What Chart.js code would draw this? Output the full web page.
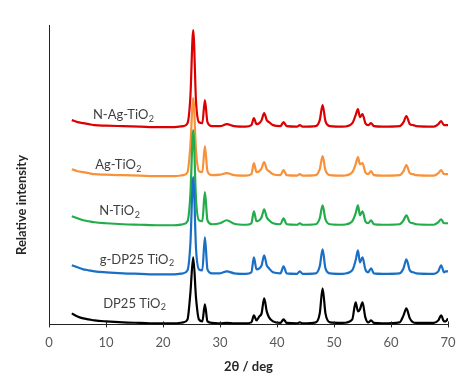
<!DOCTYPE html>
<html>
<head>
<meta charset="utf-8">
<script src="https://cdn.jsdelivr.net/npm/chart.js@4/dist/chart.umd.min.js"></script>
<style>
  html, body { margin: 0; padding: 0; background: #fff; }
  canvas { display: block; }
</style>
</head>
<body>
<canvas id="xrd" width="474" height="389"></canvas>
<script>
// 2theta positions (deg) shared by all patterns
const twoTheta = [
  4, 5, 6, 7, 8, 10, 13, 16, 19, 22,
  23.5, 24.3, 24.8, 25.3, 25.8, 26.3, 26.9, 27.35, 27.8, 28.6,
  30, 31.2, 32.5, 34.5, 35.5, 35.95, 36.4, 36.9, 37.3, 37.75,
  38.2, 38.6, 39.3, 40.6, 41.15, 41.7, 43.5, 44, 44.5, 46.8,
  47.5, 48.0, 48.5, 49.3, 51.5, 53.2, 53.8, 54.2, 54.55, 55.0,
  55.5, 56.0, 56.5, 57.0, 58.5, 61.5, 62.2, 62.7, 63.3, 63.9,
  64.4, 67.5, 68.3, 68.8, 69.3, 69.6, 70
];

// intensities, relative to each pattern's own baseline
const dp25 = [
  10, 7, 5, 4, 3, 2, 1, 0.5, 0, 0,
  1, 4, 30, 66, 25, 4, 2, 19, 2, 0.5,
  0, 0.5, 0, 0, 1, 8, 3, 7, 10, 25,
  12, 6, 2, 0.5, 4, 0.5, 0, 1, 0, 1,
  10, 35, 10, 1, 0.5, 4, 21, 12, 14, 21,
  6, 1, 3, 0.5, 0, 1, 8, 15, 5, 1,
  0.5, 0.5, 3, 8, 2, 2, 5
];
const gDp25 = [
  9, 7, 5, 4, 3, 2, 1, 0.5, 0, 0,
  1, 4, 30, 97, 25, 5, 4, 37, 5, 1,
  1, 3, 1, 0.5, 2, 17, 5, 6, 9, 19,
  9, 6, 2, 1, 8, 1, 0.5, 3, 0.5, 1,
  8, 25, 6, 1, 0.5, 4, 14, 24, 12, 17,
  5, 2, 6, 1, 0.5, 1, 6, 15, 4, 2,
  1, 0.5, 3, 9, 2, 3, 3
];
const nTiO2 = [
  9, 7, 5, 4, 3, 2, 1, 0.5, 0, 0,
  1, 4, 30, 95, 25, 5, 4, 33, 5, 1,
  2, 5, 1.5, 0.5, 2, 14, 4, 5, 8, 16,
  8, 5, 2, 1, 7, 1, 0.5, 2, 0.5, 1,
  7, 20, 6, 1, 0.5, 4, 12, 20, 10, 14,
  4, 2, 5, 1, 0.5, 1, 5, 10, 3, 2,
  1, 0.5, 3, 6, 2, 2, 2
];
const agTiO2 = [
  7, 5, 4, 3, 2, 1.5, 1, 0.5, 0, 0,
  1, 4, 30, 78, 25, 5, 4, 30, 5, 1,
  1.5, 3, 1, 0.5, 2, 13, 4, 5, 8, 14,
  7, 5, 2, 1, 6, 1, 0.5, 2, 0.5, 1,
  7, 20, 6, 1, 0.5, 4, 12, 19, 12, 13,
  4, 2, 5, 1, 0.5, 1, 5, 11, 3, 2,
  1, 0.5, 3, 6, 2, 2, 2
];
const nAgTiO2 = [
  7, 5, 4, 3, 2, 1.5, 1, 0.5, 0, 0,
  1, 4, 30, 97, 25, 5, 4, 27, 5, 1,
  1, 3, 1, 0.5, 2, 9, 3, 4, 7, 14,
  7, 5, 2, 1, 5, 1, 0.5, 2, 0.5, 1,
  7, 22, 6, 1, 0.5, 4, 12, 18, 10, 13,
  4, 2, 4, 1, 0.5, 1, 5, 11, 3, 2,
  1, 0.5, 3, 6, 2, 2, 2
];

const seriesNames = ['DP25 TiO2', 'g-DP25 TiO2', 'N-TiO2', 'Ag-TiO2', 'N-Ag-TiO2'];
const seriesValues = [dp25, gDp25, nTiO2, agTiO2, nAgTiO2];
const baselineOffsets = [1, 50, 99, 148, 197];
const xTicks = [0, 10, 20, 30, 40, 50, 60, 70];

// where each name sits (data units: left edge x, middle y)
const labelX = [9.5, 8.9, 8.8, 8.1, 7.7];
const labelY = [21, 65, 113, 159, 209];

const colors = ['#000000', '#1a6fc4', '#22ac4a', '#f7913a', '#dc0000'];
const FONT = 'Lato, "Open Sans", sans-serif';

const datasets = seriesNames.map((name, s) => ({
  label: name,
  data: twoTheta.map((x, i) => ({ x: x, y: seriesValues[s][i] + baselineOffsets[s] })),
  borderColor: colors[s],
  borderWidth: 2.2,
  pointRadius: 0,
  cubicInterpolationMode: 'monotone',
  fill: false
}));

// text like "TiO2" with the trailing 2 as a subscript
function drawFormula(ctx, text, x, y, size) {
  const main = text.slice(0, -1);
  ctx.font = size + 'px ' + FONT;
  ctx.textBaseline = 'middle';
  ctx.textAlign = 'left';
  ctx.fillText(main, x, y);
  const w = ctx.measureText(main).width;
  ctx.font = Math.round(size * 0.7) + 'px ' + FONT;
  ctx.fillText(text.slice(-1), x + w + 0.5, y + size * 0.3);
}

const decorations = {
  id: 'decorations',
  afterDraw(chart) {
    const ctx = chart.ctx;
    const xs = chart.scales.x;
    const ys = chart.scales.y;
    const area = chart.chartArea;
    ctx.save();

    // cross ticks on the x axis
    ctx.strokeStyle = '#222';
    ctx.lineWidth = 1;
    xTicks.forEach(v => {
      const px = Math.round(xs.getPixelForValue(v)) + 0.5;
      ctx.beginPath();
      ctx.moveTo(px, area.bottom - 3);
      ctx.lineTo(px, area.bottom + 3);
      ctx.stroke();
    });

    // series names
    ctx.fillStyle = '#404040';
    seriesNames.forEach((name, s) => {
      drawFormula(ctx, name, xs.getPixelForValue(labelX[s]), ys.getPixelForValue(labelY[s]), 13);
    });

    // axis titles
    ctx.font = 'bold 13px ' + FONT;
    ctx.fillStyle = '#262626';
    ctx.textAlign = 'center';
    ctx.textBaseline = 'middle';
    ctx.fillText('2θ / deg', (area.left + area.right) / 2, 367);

    // y title sits a bit below the middle in the original
    ctx.translate(22, 205);
    ctx.rotate(-Math.PI / 2);
    ctx.fillText('Relative intensity', 0, 0);
    ctx.restore();
  }
};

new Chart(document.getElementById('xrd'), {
  type: 'line',
  data: { datasets: datasets },
  options: {
    responsive: false,
    animation: false,
    layout: { padding: { left: 49, right: 26, top: 25, bottom: 27 } },
    plugins: {
      legend: { display: false },
      tooltip: { enabled: false }
    },
    scales: {
      x: {
        type: 'linear',
        min: 0,
        max: 70,
        grid: { display: false, drawTicks: false },
        border: { display: true, color: '#222', width: 1 },
        ticks: {
          stepSize: 10,
          padding: 11,
          color: '#595959',
          font: { family: FONT, size: 13 }
        }
      },
      y: {
        min: 0,
        max: 299,
        grid: { display: false, drawTicks: false },
        border: { display: true, color: '#222', width: 1 },
        ticks: { display: false }
      }
    }
  },
  plugins: [decorations]
});
</script>
</body>
</html>
